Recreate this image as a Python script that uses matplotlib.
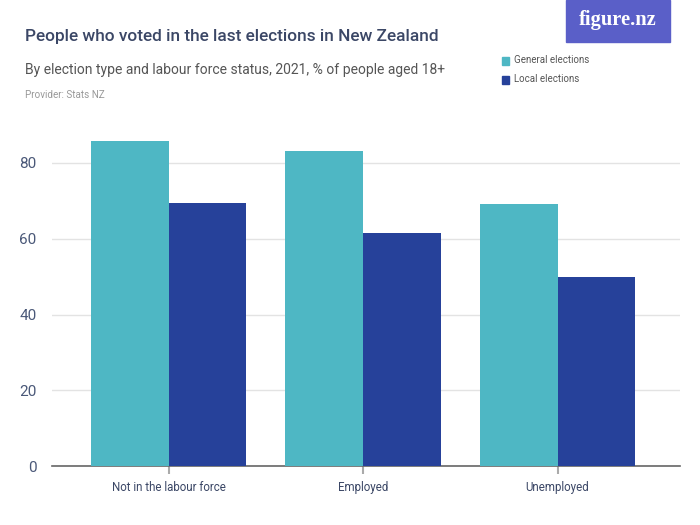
import matplotlib.pyplot as plt
import matplotlib.patches as patches
import numpy as np

categories = ["Not in the labour force", "Employed", "Unemployed"]
general = [85.8, 83.2, 69.2]
local = [69.4, 61.5, 49.9]
series_names = ["General elections", "Local elections"]
yticks = [0, 20, 40, 60, 80]

plt.rcParams["font.family"] = ["Roboto", "DejaVu Sans"]

c_general = "#4eb7c4"
c_local = "#26419a"
title_col = "#3b4766"

fig = plt.figure(figsize=(7, 5.25), dpi=100)
renderer = fig.canvas.get_renderer()


def fit_text(t, width_px):
    # shrink/grow font so the text spans the width seen in the reference
    bb = t.get_window_extent(renderer=renderer)
    t.set_fontsize(t.get_fontsize() * width_px / bb.width)
    return t


ax = fig.add_axes([52 / 700, 1 - 466 / 525, 628 / 700, (466 - 118) / 525])

x = np.arange(len(categories))
w = 0.4
ax.bar(x - w / 2, general, width=w, color=c_general, zorder=3)
ax.bar(x + w / 2, local, width=w, color=c_local, zorder=3)

ax.set_xlim(-0.6, 2.63)
ax.set_ylim(0, (466 - 118) / 3.7875)
ax.set_yticks(yticks)
ax.yaxis.grid(True, color="#e3e3e3", linewidth=1, zorder=0)
ax.tick_params(axis="y", length=0, labelsize=11, labelcolor="#4a5878", pad=11)
ax.set_xticks(x)
ax.set_xticklabels(categories)
ax.tick_params(axis="x", length=6, color="#aaaaaa", width=1.5, labelsize=8.3,
               labelcolor=title_col, pad=5)
for s in ["top", "right", "left"]:
    ax.spines[s].set_visible(False)
ax.spines["bottom"].set_color("#666666")
ax.spines["bottom"].set_linewidth(1.2)

# titles
t = fig.text(25 / 700, 1 - 36 / 525, "People who voted in the last elections in New Zealand",
             fontsize=15, color=title_col, va="center", fontweight="medium")
fit_text(t, 418)
t = fig.text(25 / 700, 1 - 70 / 525, "By election type and labour force status, 2021, % of people aged 18+",
             fontsize=12, color="#555555", va="center")
fit_text(t, 420)
t = fig.text(25 / 700, 1 - 95 / 525, "Provider: Stats NZ", fontsize=8, color="#999999", va="center")
fit_text(t, 80)

# legend
for i, (name, col) in enumerate(zip(series_names, [c_general, c_local])):
    yc = 1 - (61 + i * 19) / 525
    fig.patches.append(patches.Rectangle((502 / 700, yc - 4 / 525), 7 / 700, 8 / 525,
                                         transform=fig.transFigure, color=col))
    t = fig.text(514 / 700, yc + 1 / 525, name, fontsize=8, color="#555555", va="center")
    if i == 0:
        fit_text(t, 75)
        legend_size = t.get_fontsize()
    else:
        t.set_fontsize(legend_size)

# logo
fig.patches.append(patches.Rectangle((566 / 700, 1 - 42 / 525), 104 / 700, 42 / 525,
                                     transform=fig.transFigure, color="#5a5fc8"))
t = fig.text(618 / 700, 1 - 20 / 525, "figure.nz", fontsize=16, color="white", ha="center",
             va="center", fontweight="bold", family=["Liberation Serif", "DejaVu Serif"])
fit_text(t, 78)

fig.savefig("out.png", dpi=100)
